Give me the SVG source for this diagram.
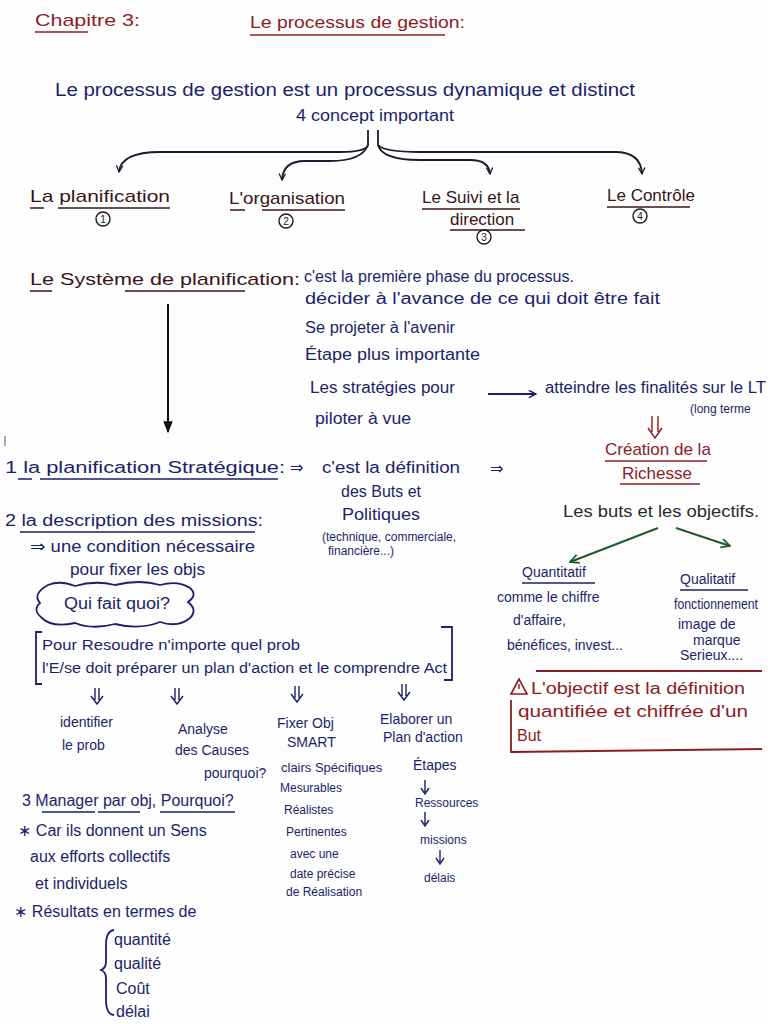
<svg xmlns="http://www.w3.org/2000/svg" width="768" height="1024" viewBox="0 0 768 1024">
<defs>
<style>
text{font-family:"Liberation Sans","DejaVu Sans",sans-serif;}
.b{fill:#1c1f6b;font-size:16px;}
.bs{fill:#1c1f6b;font-size:14px;}
.bx{fill:#1c1f6b;font-size:12px;}
.r{fill:#8c1c24;font-size:17px;}
.d{fill:#3a1418;font-size:17px;}
.g{fill:#1e2f28;font-size:16px;}
.ul{stroke:#3a1418;stroke-width:1.6;fill:none;}
.ur{stroke:#8c1c24;stroke-width:1.6;fill:none;}
.ub{stroke:#1c1f6b;stroke-width:1.5;fill:none;}
.ln{stroke:#1c1f6b;stroke-width:1.8;fill:none;}
.lr{stroke:#8c1c24;stroke-width:1.8;fill:none;}
.lg{stroke:#1f5a2c;stroke-width:2;fill:none;}
</style>
<marker id="open" viewBox="0 0 10 10" refX="9" refY="5" markerWidth="8" markerHeight="8" orient="auto" markerUnits="userSpaceOnUse">
<path d="M1,1 L9,5 L1,9" fill="none" stroke="#1a1a2e" stroke-width="1.6"/>
</marker>
<marker id="openb" viewBox="0 0 10 10" refX="9" refY="5" markerWidth="9" markerHeight="9" orient="auto" markerUnits="userSpaceOnUse">
<path d="M1,1 L9,5 L1,9" fill="none" stroke="#1c1f6b" stroke-width="1.6"/>
</marker>
<marker id="openg" viewBox="0 0 10 10" refX="9" refY="5" markerWidth="11" markerHeight="11" orient="auto" markerUnits="userSpaceOnUse">
<path d="M1,1 L9,5 L1,9" fill="none" stroke="#1f5a2c" stroke-width="1.6"/>
</marker>
<marker id="fill" viewBox="0 0 10 10" refX="9" refY="5" markerWidth="12" markerHeight="12" orient="auto" markerUnits="userSpaceOnUse">
<path d="M0,1 L10,5 L0,9 Z" fill="#111"/>
</marker>
</defs>
<rect width="768" height="1024" fill="#fdfdfd"/>

<g id="title">
<text x="35" y="26" class="r" textLength="105" lengthAdjust="spacingAndGlyphs">Chapitre 3:</text>
<path class="ur" d="M35,32 L88,32"/>
<text x="250" y="28" class="r" textLength="215" lengthAdjust="spacingAndGlyphs">Le processus de gestion:</text>
<path class="ur" d="M250,35 L445,35"/>
</g>

<g id="intro">
<text x="55" y="96" class="b" style="font-size:18px" textLength="580" lengthAdjust="spacingAndGlyphs">Le processus de gestion est un processus dynamique et distinct</text>
<text x="296" y="121" class="b" textLength="158" lengthAdjust="spacingAndGlyphs">4 concept important</text>
</g>

<g id="connectors">
<path class="ln" style="stroke:#1a1a2e" d="M368,130 L368,145 Q366,152 340,152 L160,152 Q121,152 119,172" marker-end="url(#open)"/>
<path class="ln" style="stroke:#1a1a2e" d="M368,145 Q362,161 330,161 L305,161 Q283,161 282,180" marker-end="url(#open)"/>
<path class="ln" style="stroke:#1a1a2e" d="M378,130 L378,145 Q382,160 420,160 L470,160 Q489,160 490,174" marker-end="url(#open)"/>
<path class="ln" style="stroke:#1a1a2e" d="M378,145 Q384,152 420,152 L615,152 Q641,152 642,174" marker-end="url(#open)"/>
<path d="M168,304 L168,432" stroke="#111" stroke-width="2" fill="none" marker-end="url(#fill)"/>
<path class="ln" d="M488,394 L536,394" marker-end="url(#openb)"/>
<path class="lg" d="M658,528 L570,562" marker-end="url(#openg)"/>
<path class="lg" d="M676,528 L730,546" marker-end="url(#openg)"/>
<path class="lr" style="stroke-width:1.4" d="M652,416 L652,432 M658,416 L658,432 M648,428 L655,438 L662,428"/>
<g class="ln" style="stroke-width:1.4">
<path d="M95,688 L95,700 M99,688 L99,700 M91,696 L97,704 L103,696"/>
<path d="M175,688 L175,700 M179,688 L179,700 M171,696 L177,704 L183,696"/>
<path d="M295,686 L295,698 M299,686 L299,698 M291,694 L297,702 L303,694"/>
<path d="M402,684 L402,696 M406,684 L406,696 M398,692 L404,700 L410,692"/>
<path d="M425,780 L425,792 M421,788 L425,794 L429,788"/>
<path d="M425,812 L425,824 M421,820 L425,826 L429,820"/>
<path d="M440,850 L440,862 M436,858 L440,864 L444,858"/>
</g>
</g>

<g id="n1">
<text x="30" y="202" class="d" textLength="140" lengthAdjust="spacingAndGlyphs">La planification</text>
<path class="ul" d="M30,208 L44,208 M58,208 L170,208"/>
<circle cx="103" cy="219" r="7" fill="none" stroke="#1a1a1a" stroke-width="1.4"/>
<text x="103" y="223" text-anchor="middle" style="font-size:10px;fill:#1a1a1a">1</text>
</g>
<g id="n2">
<text x="229" y="204" class="d" textLength="116" lengthAdjust="spacingAndGlyphs">L'organisation</text>
<path class="ul" d="M230,210 L245,210 M262,210 L345,210"/>
<circle cx="286" cy="221" r="7" fill="none" stroke="#1a1a1a" stroke-width="1.4"/>
<text x="286" y="225" text-anchor="middle" style="font-size:10px;fill:#1a1a1a">2</text>
</g>
<g id="n3">
<text x="422" y="203" class="d">Le Suivi et la</text>
<path class="ul" d="M422,209 L520,209"/>
<text x="450" y="225" class="d">direction</text>
<path class="ul" d="M450,230 L525,230"/>
<circle cx="484" cy="237" r="7" fill="none" stroke="#1a1a1a" stroke-width="1.4"/>
<text x="484" y="241" text-anchor="middle" style="font-size:10px;fill:#1a1a1a">3</text>
</g>
<g id="n4">
<text x="607" y="201" class="d">Le Contrôle</text>
<path class="ul" d="M607,207 L690,207"/>
<circle cx="640" cy="216" r="7" fill="none" stroke="#1a1a1a" stroke-width="1.4"/>
<text x="640" y="220" text-anchor="middle" style="font-size:10px;fill:#1a1a1a">4</text>
</g>

<g id="systeme">
<text x="30" y="285" class="d" textLength="270" lengthAdjust="spacingAndGlyphs">Le Système de planification:</text>
<path class="ul" d="M30,291 L52,291 M125,291 L245,291"/>
<text x="304" y="282" class="b" textLength="270" lengthAdjust="spacingAndGlyphs">c'est la première phase du processus.</text>
<text x="305" y="304" class="b" textLength="355" lengthAdjust="spacingAndGlyphs">décider à l'avance de ce qui doit être fait</text>
<text x="305" y="333" class="b" textLength="150" lengthAdjust="spacingAndGlyphs">Se projeter à l'avenir</text>
<text x="305" y="360" class="b" textLength="175" lengthAdjust="spacingAndGlyphs">Étape plus importante</text>
<text x="310" y="393" class="b" textLength="145" lengthAdjust="spacingAndGlyphs">Les stratégies pour</text>
<text x="545" y="393" class="b" textLength="221" lengthAdjust="spacingAndGlyphs">atteindre les finalités sur le LT</text>
<text x="690" y="413" class="bx">(long terme</text>
<text x="315" y="424" class="b" textLength="96" lengthAdjust="spacingAndGlyphs">piloter à vue</text>
<path d="M5,436 L5,446" stroke="#555" stroke-width="1"/>
</g>

<g id="richesse">
<text x="605" y="455" class="r">Création de la</text>
<path class="ur" d="M605,461 L707,461"/>
<text x="622" y="479" class="r">Richesse</text>
<path class="ur" d="M620,484 L700,484"/>
</g>

<g id="strategique">
<text x="5" y="473" class="b" textLength="280" lengthAdjust="spacingAndGlyphs">1 la planification Stratégique:</text>
<path class="ub" d="M18,479 L32,479 M40,479 L278,479"/>
<text x="290" y="473" class="b">⇒</text>
<text x="322" y="473" class="b" textLength="138" lengthAdjust="spacingAndGlyphs">c'est la définition</text>
<text x="341" y="497" class="b" textLength="80" lengthAdjust="spacingAndGlyphs">des Buts et</text>
<text x="342" y="520" class="b" textLength="78" lengthAdjust="spacingAndGlyphs">Politiques</text>
<text x="322" y="541" class="bx">(technique, commerciale,</text>
<text x="328" y="555" class="bx">financière...)</text>
<text x="490" y="474" class="b">⇒</text>
</g>

<g id="buts">
<text x="563" y="517" class="g" textLength="196" lengthAdjust="spacingAndGlyphs">Les buts et les objectifs.</text>
</g>

<g id="missions">
<text x="5" y="526" class="b" textLength="258" lengthAdjust="spacingAndGlyphs">2 la description des missions:</text>
<path class="ub" d="M20,532 L255,532"/>
<text x="30" y="552" class="b" textLength="225" lengthAdjust="spacingAndGlyphs">⇒ une condition nécessaire</text>
<text x="70" y="575" class="b" textLength="135" lengthAdjust="spacingAndGlyphs">pour fixer les objs</text>
<path class="ln" d="M48,585 Q60,580 75,586 Q95,580 115,585 Q140,579 160,585 Q178,580 190,588 Q198,595 188,602 Q198,610 190,618 Q178,628 160,622 Q140,630 115,624 Q92,630 75,623 Q52,628 42,618 Q32,610 40,603 Q32,594 48,585 Z"/>
<text x="64" y="609" class="b" textLength="106" lengthAdjust="spacingAndGlyphs">Qui fait quoi?</text>
</g>

<g id="quantitatif">
<text x="522" y="577" class="bs">Quantitatif</text>
<path class="ub" d="M522,583 L595,583"/>
<text x="497" y="602" class="bs">comme le chiffre</text>
<text x="513" y="625" class="bs">d'affaire,</text>
<text x="507" y="650" class="bs">bénéfices, invest...</text>
</g>

<g id="qualitatif">
<text x="680" y="584" class="bs">Qualitatif</text>
<path class="ub" d="M680,590 L748,590"/>
<text x="674" y="609" class="bs" textLength="84" lengthAdjust="spacingAndGlyphs">fonctionnement</text>
<text x="678" y="629" class="bs">image de</text>
<text x="693" y="645" class="bs">marque</text>
<text x="680" y="660" class="bs">Serieux....</text>
</g>

<g id="objectif">
<path class="lr" d="M536,671 L762,671"/>
<path d="M511,694 L519,679 L527,694 Z" fill="none" stroke="#8c1c24" stroke-width="1.6"/>
<path d="M519,684 L519,689" stroke="#8c1c24" stroke-width="1.4"/>
<text x="531" y="694" class="r" style="font-size:16px" textLength="214" lengthAdjust="spacingAndGlyphs">L'objectif est la définition</text>
<path class="lr" d="M511,700 L511,752 L762,749"/>
<text x="518" y="717" class="r" style="font-size:16px" textLength="230" lengthAdjust="spacingAndGlyphs">quantifiée et chiffrée d'un</text>
<text x="517" y="741" class="r" style="font-size:16px">But</text>
</g>

<g id="plan">
<path class="ln" d="M42,632 L36,632 L36,684 L42,684"/>
<path class="ln" d="M441,627 L452,627 L452,680 L444,680"/>
<text x="42" y="650" class="bs" textLength="258" lengthAdjust="spacingAndGlyphs">Pour Resoudre n'importe quel prob</text>
<text x="42" y="673" class="bs" textLength="405" lengthAdjust="spacingAndGlyphs">l'E/se doit préparer un plan d'action et le comprendre Act</text>
</g>

<g id="identifier">
<text x="60" y="727" class="bs">identifier</text>
<text x="62" y="750" class="bs">le prob</text>
</g>
<g id="analyse">
<text x="178" y="734" class="bs">Analyse</text>
<text x="175" y="755" class="bs">des Causes</text>
<text x="204" y="778" class="bs">pourquoi?</text>
</g>
<g id="smart">
<text x="277" y="728" class="bs">Fixer Obj</text>
<text x="287" y="747" class="bs">SMART</text>
<text x="281" y="772" class="bx" style="font-size:13px">clairs Spécifiques</text>
<text x="280" y="792" class="bx">Mesurables</text>
<text x="284" y="814" class="bx">Réalistes</text>
<text x="286" y="836" class="bx">Pertinentes</text>
<text x="290" y="858" class="bx">avec une</text>
<text x="290" y="878" class="bx">date précise</text>
<text x="286" y="896" class="bx">de Réalisation</text>
</g>
<g id="elaborer">
<text x="380" y="724" class="bs">Elaborer un</text>
<text x="383" y="742" class="bs">Plan d'action</text>
<text x="413" y="770" class="bs">Étapes</text>
<text x="415" y="807" class="bx">Ressources</text>
<text x="420" y="844" class="bx">missions</text>
<text x="424" y="882" class="bx">délais</text>
</g>

<g id="manager">
<text x="22" y="806" class="b">3 Manager par obj, Pourquoi?</text>
<path class="ub" d="M42,812 L95,812 M98,812 L140,812 M160,812 L235,812"/>
<text x="18" y="836" class="b">∗ Car ils donnent un Sens</text>
<text x="30" y="862" class="b">aux efforts collectifs</text>
<text x="35" y="889" class="b">et individuels</text>
<text x="14" y="917" class="b">∗ Résultats en termes de</text>
<path class="ln" d="M114,930 Q106,931 106,945 L106,962 Q106,968 101,970 Q106,972 106,978 L106,1000 Q106,1014 114,1015"/>
<text x="114" y="945" class="b">quantité</text>
<text x="114" y="969" class="b">qualité</text>
<text x="116" y="994" class="b">Coût</text>
<text x="116" y="1017" class="b">délai</text>
</g>
</svg>
